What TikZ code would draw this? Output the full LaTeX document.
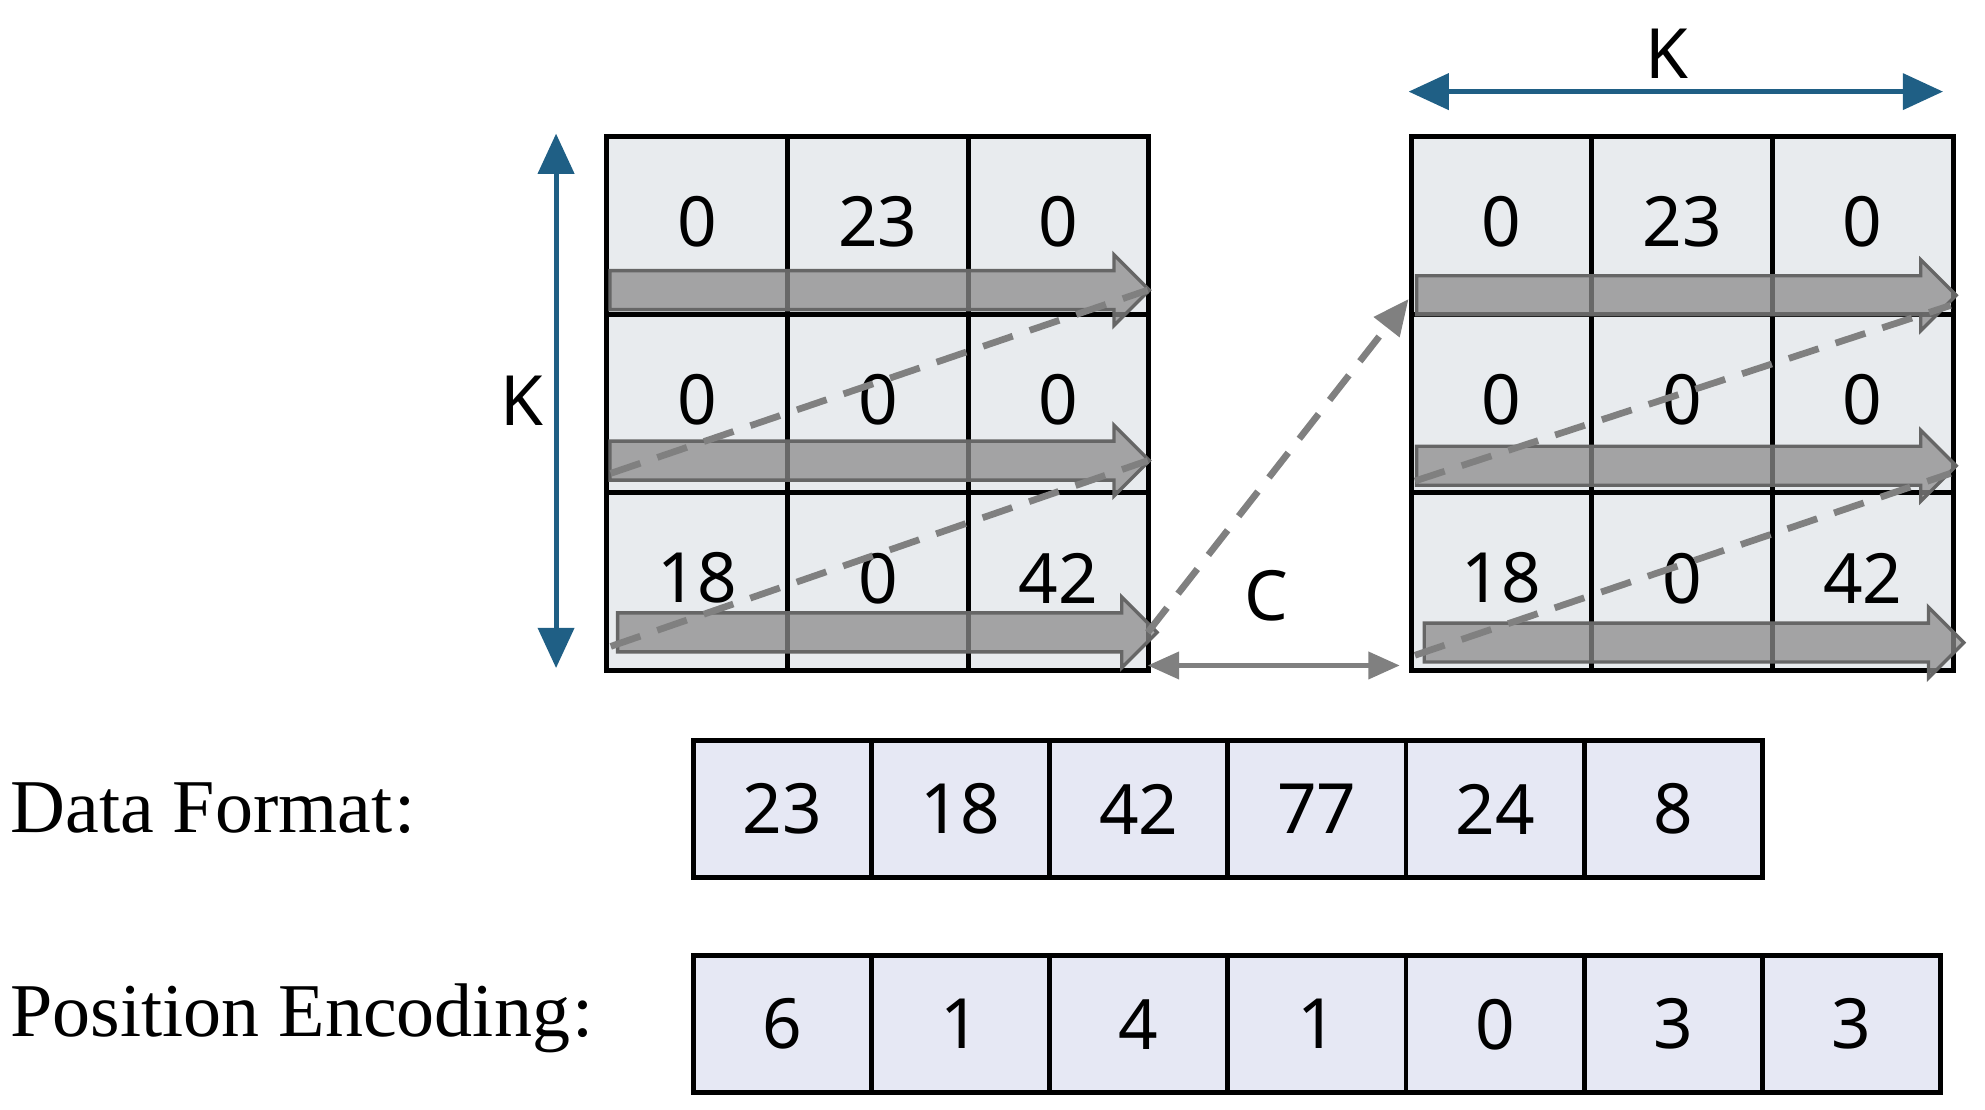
\documentclass[tikz,border=0pt]{standalone}
\usepackage{fontspec}
\setmainfont{Liberation Serif}
\newfontfamily\numf{Noto Sans}
\usetikzlibrary{arrows.meta,shapes.arrows}
\definecolor{cellg}{HTML}{E8EBEE}
\definecolor{cellb}{HTML}{E6E8F4}
\definecolor{kblue}{HTML}{1F5F85}
\begin{document}
\begin{tikzpicture}[x=0.02cm,y=-0.02cm,
  cell/.style={draw=black,line width=2.2pt,fill=cellg,minimum width=142*0.02cm,minimum height=140*0.02cm,inner sep=0pt},
  box/.style={draw=black,line width=2.2pt,fill=cellb,minimum width=140*0.02cm,minimum height=108*0.02cm,inner sep=0pt,font=\numf\fontsize{31}{31}\selectfont},
  num/.style={font=\numf\fontsize{31}{31}\selectfont},
  blk/.style={single arrow,draw=black!60,line width=1.5pt,fill=black!45,fill opacity=0.75,minimum height=424*0.02cm,minimum width=48*0.02cm,inner xsep=0pt,inner ysep=0.28cm,single arrow head indent=0pt},
  dsh/.style={draw=black!50,line width=3pt,dash pattern=on 14pt off 8pt},
  lab/.style={font=\fontsize{34}{34}\selectfont,anchor=west}]
\useasboundingbox (0,0) rectangle (1560,872);
% grids
\foreach \g/\x in {L/475,R/1107}{
 \foreach \r/\y in {1/105,2/245,3/385}{
  \foreach \c in {0,1,2}{
   \node[cell,anchor=north west] (\g\r\c) at ({\x+\c*142},\y) {};
 }}}
\foreach \g in {L,R}{
 \node[num] at ([yshift=0.05cm]\g10) {0}; \node[num] at ([yshift=0.05cm]\g11) {23}; \node[num] at ([yshift=0.05cm]\g12) {0};
 \node[num] at ([yshift=0.05cm]\g20) {0}; \node[num] at ([yshift=0.05cm]\g21) {0}; \node[num] at ([yshift=0.05cm]\g22) {0};
 \node[num] at ([yshift=0.05cm]\g30) {18}; \node[num] at ([yshift=0.05cm]\g31) {0}; \node[num] at ([yshift=0.05cm]\g32) {42};}
% block arrows
\node[blk,anchor=west] (a1) at (478,228) {};
\node[blk,anchor=west] (a2) at (478,362) {};
\node[blk,anchor=west] (a3) at (484,497) {};
\node[blk,anchor=west] (b1) at (1112,232) {};
\node[blk,anchor=west] (b2) at (1112,366) {};
\node[blk,anchor=west] (b3) at (1118,505) {};
% dashed
\coordinate (d1) at (480,372); \coordinate (d2) at (902,228);
\coordinate (d3) at (480,508); \coordinate (d4) at (902,362);
\coordinate (d5) at (902,497); \coordinate (d6) at (1107,235);
\coordinate (e1) at (1112,378); \coordinate (e2) at (1533,240);
\coordinate (e3) at (1112,515); \coordinate (e4) at (1533,372);
\draw[dsh] (d1) -- (d2); \draw[dsh] (d3) -- (d4);
\draw[dsh,-{Triangle[length=16pt,width=14pt]}] (d5) -- (d6);
\draw[dsh] (e1) -- (e2); \draw[dsh] (e3) -- (e4);
% K arrows
\coordinate (k1) at (437,105); \coordinate (k2) at (437,525);
\draw[kblue,line width=2.2pt,{Triangle[length=18pt,width=16pt]}-{Triangle[length=18pt,width=16pt]}] (k1) -- (k2);
\node[num] (kl) at (410,315) {K};
\coordinate (k3) at (1107,72); \coordinate (k4) at (1527,72);
\draw[kblue,line width=2.2pt,{Triangle[length=18pt,width=16pt]}-{Triangle[length=18pt,width=16pt]}] (k3) -- (k4);
\node[num] (kt) at (1310,42) {K};
% C arrow
\coordinate (c1) at (902,523); \coordinate (c2) at (1100,523);
\draw[black!50,line width=2pt,{Triangle[length=14pt,width=12pt]}-{Triangle[length=14pt,width=12pt]}] (c1) -- (c2);
\node[num] (cl) at (995,468) {C};
% rows
\node[lab] (df) at (2,635) {Data Format\kern1pt:};
\node[lab] (pe) at (2,800) {Position Encoding\kern1pt:};
\foreach \v [count=\i from 0] in {23,18,42,77,24,8}
  \node[box,anchor=north west] (f\i) at ({543+\i*140},580) {\v};
\foreach \v [count=\i from 0] in {6,1,4,1,0,3,3}
  \node[box,anchor=north west] (p\i) at ({543+\i*140},749) {\v};
\end{tikzpicture}
\end{document}
